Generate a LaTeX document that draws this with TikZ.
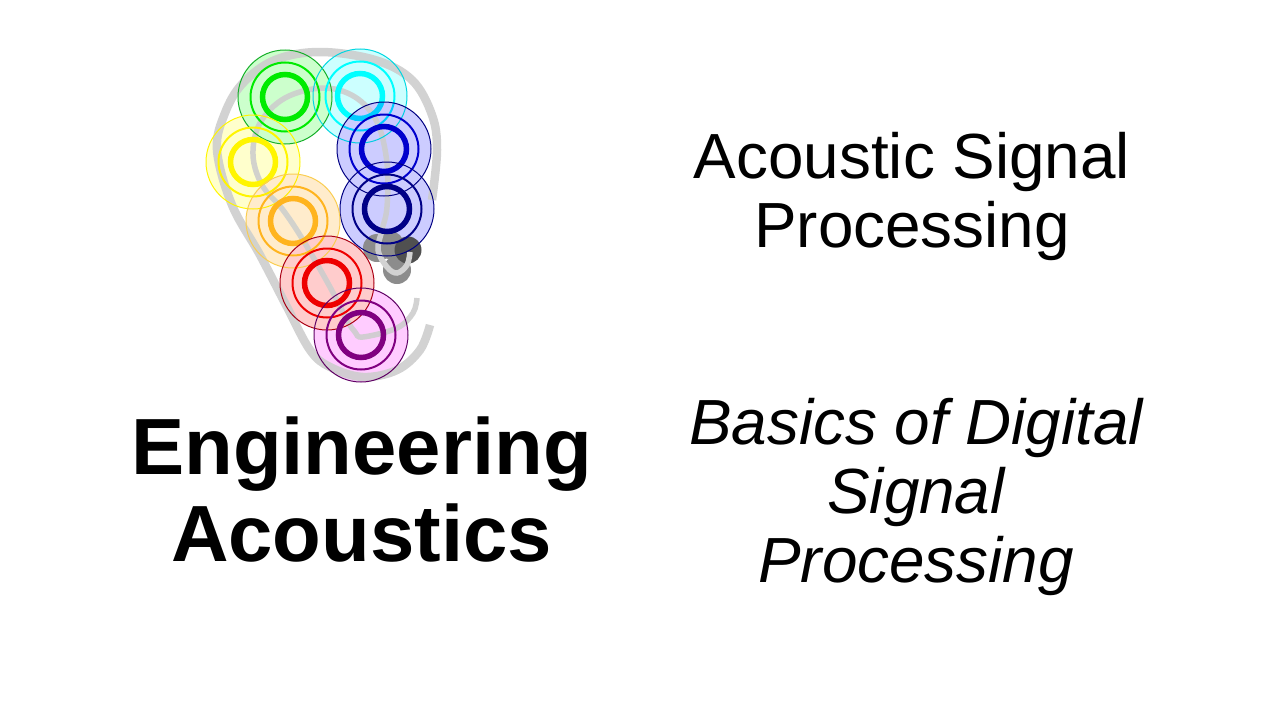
\documentclass[tikz,border=0pt]{standalone}
\usepackage{fontspec}
\setmainfont{Liberation Sans}
\usetikzlibrary{positioning}

\definecolor{ringgray}{RGB}{210,210,210}
\definecolor{ringgreen}{RGB}{0,235,0}
\definecolor{edgegreen}{RGB}{20,175,40}
\definecolor{fillgreen}{RGB}{204,255,204}
\definecolor{ringcyan}{RGB}{0,255,255}
\definecolor{edgecyan}{RGB}{0,215,225}
\definecolor{fillcyan}{RGB}{204,255,255}
\definecolor{ringblue}{RGB}{0,0,205}
\definecolor{edgeblue}{RGB}{0,0,130}
\definecolor{fillblue}{RGB}{204,204,255}
\definecolor{ringnavy}{RGB}{0,0,135}
\definecolor{ringyellow}{RGB}{255,245,0}
\definecolor{fillyellow}{RGB}{255,255,204}
\definecolor{ringorange}{RGB}{255,180,30}
\definecolor{edgeorange}{RGB}{250,205,80}
\definecolor{fillorange}{RGB}{255,236,204}
\definecolor{ringred}{RGB}{238,0,0}
\definecolor{edgered}{RGB}{170,0,20}
\definecolor{fillred}{RGB}{255,204,204}
\definecolor{ringpurple}{RGB}{128,0,128}
\definecolor{edgepurple}{RGB}{95,0,100}
\definecolor{fillpurple}{RGB}{255,204,255}
\definecolor{spotgray}{RGB}{140,140,140}
\definecolor{spotdark}{RGB}{80,80,80}

\begin{document}
\begin{tikzpicture}[x=1pt,y=-1pt]

	\tikzset{disc st/.style={circle, inner sep=0pt, minimum size=#1},
			 spot st/.style={disc st=28pt, fill=spotgray},
			 title st/.style={align=center, font=\fontsize{79.7}{87}\selectfont\bfseries},
			 sub st/.style={align=center, font=\fontsize{63.8}{69}\selectfont}}

	\useasboundingbox (0,0) rectangle (1280,720);

	% dark spots under the cochlea
	\node[spot st] (S1) at (377,248) {};
	\node[spot st] (S2) at (390,245) {};
	\node[spot st] (S4) at (397,270) {};
	\node[spot st, disc st=27pt, fill=spotdark] (S3) at (408,250) {};

	% gray outline
	\draw[ringgray, line width=8.5pt] plot[smooth, tension=0.6] coordinates {
		(430,325) (420,350) (397,370) (363,377) (330,367) (310,350) (287,307)
		(260,255) (232,205) (217,150) (225,113) (243,83) (275,60) (320,52) (375,60)
		(412,80) (432,115) (437,150) (432,200)};
	\draw[ringgray, line width=5.5pt] plot[smooth, tension=0.6] coordinates {
		(417,298) (413,313) (397,328) (363,337) (355,332) (347,320) (330,287) (303,240)
		(283,210) (262,185) (253,155) (260,123) (285,98) (323,88) (355,97) (377,122)
		(387,163) (387,207) (382,230) (378,250) (387,267) (397,273) (407,265) (410,252)};

	% hair cell rings
	\foreach \name/\cx/\cy/\edgecol/\fillcol/\corecol in {
		green/285/97/edgegreen/fillgreen/ringgreen,
		cyan/360/96/edgecyan/fillcyan/ringcyan,
		blue/384/149/edgeblue/fillblue/ringblue,
		navy/387/209/edgeblue/fillblue/ringnavy,
		yellow/253/162/ringyellow/fillyellow/ringyellow,
		orange/293/221/edgeorange/fillorange/ringorange,
		red/327/283/edgered/fillred/ringred,
		purple/361/335/edgepurple/fillpurple/ringpurple} {
		\begin{scope}[blend mode=darken]
			\node[disc st=94pt, fill=\fillcol] (\name A) at (\cx,\cy) {};
		\end{scope}
		\node[disc st=94pt, draw=\edgecol, line width=1pt] (\name B) at (\name A) {};
		\node[disc st=69pt, draw=\corecol, line width=2pt] (\name C) at (\name A) {};
		\node[disc st=45pt, draw=\corecol, line width=5.5pt] (\name D) at (\name A) {};
	}

	\node[title st] (title) at (361.5,490) {Engineering\\Acoustics};
	\node[sub st] (topic) at (912,197) {Acoustic Signal\\Processing};
	\node[sub st, font=\fontsize{63.8}{69}\selectfont\itshape] (part) at (916,497) {Basics of Digital\\Signal\\Processing};
\end{tikzpicture}
\end{document}
